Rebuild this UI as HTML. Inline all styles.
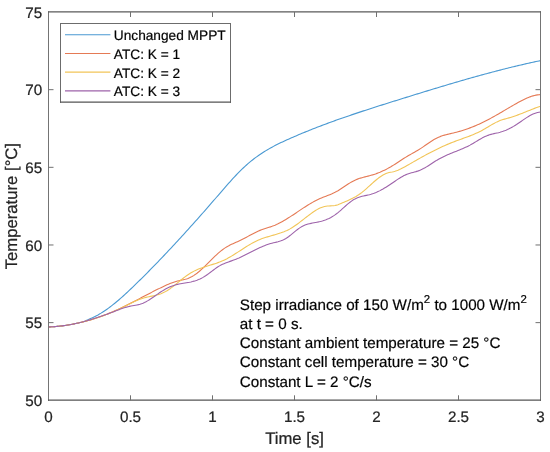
<!DOCTYPE html>
<html><head><meta charset="utf-8"><title>Temperature plot</title>
<style>html,body{margin:0;padding:0;background:#fff;width:550px;height:452px;overflow:hidden}svg{display:block}text{stroke:#1a1a1a;stroke-width:0.22px}</style>
</head><body>
<svg width="550" height="452" viewBox="0 0 550 452" text-rendering="geometricPrecision">
<rect width="550" height="452" fill="#fff"/>
<defs><clipPath id="c"><rect x="48.5" y="12.0" width="492.0" height="388.3"/></clipPath></defs>
<g clip-path="url(#c)" fill="none" stroke-width="1.1" stroke-linejoin="round" stroke-linecap="round">
<path d="M48.50 326.91 L50.00 326.85 L51.50 326.78 L53.00 326.69 L54.50 326.59 L56.00 326.47 L57.50 326.34 L59.00 326.19 L60.50 326.02 L62.00 325.84 L63.50 325.65 L65.00 325.44 L66.50 325.22 L68.00 324.98 L69.50 324.73 L71.00 324.46 L72.50 324.18 L74.00 323.89 L75.50 323.58 L77.00 323.26 L78.50 322.92 L80.00 322.57 L81.50 322.16 L83.00 321.69 L84.50 321.17 L86.00 320.57 L87.50 319.89 L89.00 319.24 L90.50 318.60 L92.00 317.93 L93.50 317.23 L95.00 316.49 L96.50 315.71 L98.00 314.90 L99.50 314.04 L101.00 313.15 L102.50 312.21 L104.00 311.24 L105.50 310.23 L107.00 309.19 L108.50 308.11 L110.00 307.00 L111.50 305.85 L113.00 304.68 L114.50 303.48 L116.00 302.25 L117.50 300.99 L119.00 299.71 L120.50 298.41 L122.00 297.08 L123.50 295.74 L125.00 294.38 L126.50 292.99 L128.00 291.60 L129.50 290.18 L131.00 288.76 L132.50 287.32 L134.00 285.87 L135.50 284.42 L137.00 282.95 L138.50 281.48 L140.00 280.00 L141.50 278.52 L143.00 277.03 L144.50 275.53 L146.00 274.03 L147.50 272.52 L149.00 271.00 L150.50 269.48 L152.00 267.95 L153.50 266.41 L155.00 264.87 L156.50 263.32 L158.00 261.77 L159.50 260.21 L161.00 258.65 L162.50 257.08 L164.00 255.50 L165.50 253.92 L167.00 252.33 L168.50 250.74 L170.00 249.14 L171.50 247.54 L173.00 245.93 L174.50 244.32 L176.00 242.70 L177.50 241.07 L179.00 239.45 L180.50 237.81 L182.00 236.17 L183.50 234.53 L185.00 232.88 L186.50 231.23 L188.00 229.57 L189.50 227.91 L191.00 226.24 L192.50 224.57 L194.00 222.89 L195.50 221.21 L197.00 219.53 L198.50 217.84 L200.00 216.14 L201.50 214.45 L203.00 212.74 L204.50 211.04 L206.00 209.33 L207.50 207.62 L209.00 205.90 L210.50 204.18 L212.00 202.45 L213.50 200.73 L215.00 198.99 L216.50 197.26 L218.00 195.52 L219.50 193.78 L221.00 192.04 L222.50 190.31 L224.00 188.58 L225.50 186.86 L227.00 185.15 L228.50 183.45 L230.00 181.77 L231.50 180.11 L233.00 178.47 L234.50 176.85 L236.00 175.25 L237.50 173.68 L239.00 172.14 L240.50 170.64 L242.00 169.17 L243.50 167.73 L245.00 166.34 L246.50 164.98 L248.00 163.67 L249.50 162.40 L251.00 161.16 L252.50 159.96 L254.00 158.80 L255.50 157.67 L257.00 156.57 L258.50 155.51 L260.00 154.48 L261.50 153.48 L263.00 152.50 L264.50 151.55 L266.00 150.63 L267.50 149.74 L269.00 148.87 L270.50 148.02 L272.00 147.19 L273.50 146.38 L275.00 145.59 L276.50 144.82 L278.00 144.07 L279.50 143.33 L281.00 142.60 L282.50 141.89 L284.00 141.19 L285.50 140.50 L287.00 139.82 L288.50 139.15 L290.00 138.49 L291.50 137.83 L293.00 137.17 L294.50 136.53 L296.00 135.88 L297.50 135.24 L299.00 134.61 L300.50 133.98 L302.00 133.35 L303.50 132.73 L305.00 132.12 L306.50 131.50 L308.00 130.90 L309.50 130.29 L311.00 129.70 L312.50 129.10 L314.00 128.51 L315.50 127.93 L317.00 127.34 L318.50 126.76 L320.00 126.19 L321.50 125.62 L323.00 125.05 L324.50 124.49 L326.00 123.93 L327.50 123.37 L329.00 122.82 L330.50 122.27 L332.00 121.72 L333.50 121.18 L335.00 120.64 L336.50 120.10 L338.00 119.57 L339.50 119.04 L341.00 118.51 L342.50 117.99 L344.00 117.46 L345.50 116.94 L347.00 116.43 L348.50 115.91 L350.00 115.40 L351.50 114.89 L353.00 114.38 L354.50 113.88 L356.00 113.38 L357.50 112.88 L359.00 112.38 L360.50 111.88 L362.00 111.39 L363.50 110.89 L365.00 110.40 L366.50 109.92 L368.00 109.43 L369.50 108.94 L371.00 108.46 L372.50 107.98 L374.00 107.49 L375.50 107.01 L377.00 106.54 L378.50 106.06 L380.00 105.58 L381.50 105.11 L383.00 104.63 L384.50 104.16 L386.00 103.69 L387.50 103.22 L389.00 102.74 L390.50 102.27 L392.00 101.81 L393.50 101.34 L395.00 100.87 L396.50 100.40 L398.00 99.93 L399.50 99.46 L401.00 99.00 L402.50 98.53 L404.00 98.06 L405.50 97.60 L407.00 97.13 L408.50 96.66 L410.00 96.20 L411.50 95.73 L413.00 95.27 L414.50 94.80 L416.00 94.34 L417.50 93.88 L419.00 93.41 L420.50 92.95 L422.00 92.49 L423.50 92.03 L425.00 91.57 L426.50 91.11 L428.00 90.65 L429.50 90.19 L431.00 89.74 L432.50 89.28 L434.00 88.82 L435.50 88.37 L437.00 87.92 L438.50 87.46 L440.00 87.01 L441.50 86.56 L443.00 86.11 L444.50 85.66 L446.00 85.21 L447.50 84.77 L449.00 84.32 L450.50 83.88 L452.00 83.43 L453.50 82.99 L455.00 82.55 L456.50 82.11 L458.00 81.68 L459.50 81.24 L461.00 80.81 L462.50 80.37 L464.00 79.94 L465.50 79.51 L467.00 79.08 L468.50 78.65 L470.00 78.23 L471.50 77.80 L473.00 77.38 L474.50 76.96 L476.00 76.54 L477.50 76.12 L479.00 75.71 L480.50 75.30 L482.00 74.88 L483.50 74.47 L485.00 74.07 L486.50 73.66 L488.00 73.26 L489.50 72.86 L491.00 72.46 L492.50 72.06 L494.00 71.66 L495.50 71.27 L497.00 70.88 L498.50 70.49 L500.00 70.10 L501.50 69.72 L503.00 69.33 L504.50 68.95 L506.00 68.58 L507.50 68.20 L509.00 67.83 L510.50 67.46 L512.00 67.09 L513.50 66.73 L515.00 66.36 L516.50 66.00 L518.00 65.64 L519.50 65.29 L521.00 64.94 L522.50 64.59 L524.00 64.24 L525.50 63.90 L527.00 63.56 L528.50 63.22 L530.00 62.88 L531.50 62.55 L533.00 62.22 L534.50 61.89 L536.00 61.57 L537.50 61.25 L539.00 60.93 L540.50 60.61" stroke="#4A99D2"/>
<path d="M48.50 326.91 L50.00 326.85 L51.50 326.78 L53.00 326.69 L54.50 326.59 L56.00 326.47 L57.50 326.34 L59.00 326.19 L60.50 326.02 L62.00 325.84 L63.50 325.65 L65.00 325.44 L66.50 325.22 L68.00 324.98 L69.50 324.73 L71.00 324.46 L72.50 324.18 L74.00 323.89 L75.50 323.58 L77.00 323.26 L78.50 322.92 L80.00 322.57 L81.50 322.22 L83.00 321.85 L84.50 321.48 L86.00 321.10 L87.50 320.70 L89.00 320.29 L90.50 319.85 L92.00 319.40 L93.50 318.94 L95.00 318.46 L96.50 317.97 L98.00 317.47 L99.50 316.95 L101.00 316.42 L102.50 315.87 L104.00 315.32 L105.50 314.74 L107.00 314.16 L108.50 313.55 L110.00 312.94 L111.50 312.31 L113.00 311.67 L114.50 311.02 L116.00 310.35 L117.50 309.67 L119.00 308.97 L120.50 308.26 L122.00 307.55 L123.50 306.82 L125.00 306.08 L126.50 305.34 L128.00 304.59 L129.50 303.83 L131.00 303.06 L132.50 302.29 L134.00 301.51 L135.50 300.73 L137.00 299.95 L138.50 299.16 L140.00 298.38 L141.50 297.59 L143.00 296.80 L144.50 296.02 L146.00 295.23 L147.50 294.45 L149.00 293.67 L150.50 292.90 L152.00 292.13 L153.50 291.36 L155.00 290.60 L156.50 289.85 L158.00 289.11 L159.50 288.37 L161.00 287.65 L162.50 286.93 L164.00 286.23 L165.50 285.54 L167.00 284.87 L168.50 284.22 L170.00 283.59 L171.50 283.00 L173.00 282.45 L174.50 281.94 L176.00 281.47 L177.50 281.06 L179.00 280.70 L180.50 280.36 L182.00 280.04 L183.50 279.70 L185.00 279.33 L186.50 278.91 L188.00 278.41 L189.50 277.82 L191.00 277.11 L192.50 276.28 L194.00 275.35 L195.50 274.32 L197.00 273.20 L198.50 272.00 L200.00 270.73 L201.50 269.40 L203.00 268.01 L204.50 266.58 L206.00 265.12 L207.50 263.64 L209.00 262.14 L210.50 260.63 L212.00 259.14 L213.50 257.65 L215.00 256.20 L216.50 254.78 L218.00 253.41 L219.50 252.10 L221.00 250.86 L222.50 249.70 L224.00 248.62 L225.50 247.64 L227.00 246.73 L228.50 245.89 L230.00 245.10 L231.50 244.36 L233.00 243.66 L234.50 242.97 L236.00 242.30 L237.50 241.64 L239.00 240.96 L240.50 240.27 L242.00 239.54 L243.50 238.78 L245.00 238.00 L246.50 237.19 L248.00 236.37 L249.50 235.55 L251.00 234.73 L252.50 233.93 L254.00 233.15 L255.50 232.39 L257.00 231.67 L258.50 231.00 L260.00 230.38 L261.50 229.80 L263.00 229.26 L264.50 228.75 L266.00 228.27 L267.50 227.80 L269.00 227.34 L270.50 226.87 L272.00 226.35 L273.50 225.79 L275.00 225.18 L276.50 224.52 L278.00 223.81 L279.50 223.05 L281.00 222.26 L282.50 221.44 L284.00 220.58 L285.50 219.69 L287.00 218.77 L288.50 217.83 L290.00 216.88 L291.50 215.90 L293.00 214.92 L294.50 213.92 L296.00 212.92 L297.50 211.91 L299.00 210.90 L300.50 209.90 L302.00 208.90 L303.50 207.91 L305.00 206.94 L306.50 205.98 L308.00 205.04 L309.50 204.12 L311.00 203.22 L312.50 202.36 L314.00 201.52 L315.50 200.72 L317.00 199.96 L318.50 199.24 L320.00 198.57 L321.50 197.94 L323.00 197.33 L324.50 196.75 L326.00 196.18 L327.50 195.60 L329.00 195.02 L330.50 194.41 L332.00 193.77 L333.50 193.09 L335.00 192.35 L336.50 191.56 L338.00 190.69 L339.50 189.77 L341.00 188.81 L342.50 187.81 L344.00 186.81 L345.50 185.80 L347.00 184.79 L348.50 183.82 L350.00 182.87 L351.50 181.98 L353.00 181.15 L354.50 180.39 L356.00 179.72 L357.50 179.12 L359.00 178.58 L360.50 178.10 L362.00 177.66 L363.50 177.25 L365.00 176.86 L366.50 176.49 L368.00 176.11 L369.50 175.73 L371.00 175.32 L372.50 174.89 L374.00 174.42 L375.50 173.92 L377.00 173.38 L378.50 172.81 L380.00 172.20 L381.50 171.55 L383.00 170.87 L384.50 170.16 L386.00 169.41 L387.50 168.62 L389.00 167.80 L390.50 166.95 L392.00 166.05 L393.50 165.13 L395.00 164.18 L396.50 163.20 L398.00 162.22 L399.50 161.23 L401.00 160.24 L402.50 159.26 L404.00 158.30 L405.50 157.36 L407.00 156.45 L408.50 155.57 L410.00 154.71 L411.50 153.87 L413.00 153.03 L414.50 152.19 L416.00 151.34 L417.50 150.46 L419.00 149.56 L420.50 148.61 L422.00 147.62 L423.50 146.60 L425.00 145.56 L426.50 144.52 L428.00 143.48 L429.50 142.45 L431.00 141.45 L432.50 140.49 L434.00 139.58 L435.50 138.73 L437.00 137.95 L438.50 137.26 L440.00 136.64 L441.50 136.08 L443.00 135.59 L444.50 135.15 L446.00 134.74 L447.50 134.36 L449.00 134.01 L450.50 133.66 L452.00 133.31 L453.50 132.96 L455.00 132.58 L456.50 132.19 L458.00 131.79 L459.50 131.36 L461.00 130.92 L462.50 130.46 L464.00 129.99 L465.50 129.49 L467.00 128.98 L468.50 128.44 L470.00 127.89 L471.50 127.32 L473.00 126.73 L474.50 126.12 L476.00 125.50 L477.50 124.85 L479.00 124.18 L480.50 123.49 L482.00 122.78 L483.50 122.05 L485.00 121.30 L486.50 120.53 L488.00 119.75 L489.50 118.95 L491.00 118.14 L492.50 117.31 L494.00 116.47 L495.50 115.62 L497.00 114.77 L498.50 113.90 L500.00 113.03 L501.50 112.16 L503.00 111.28 L504.50 110.40 L506.00 109.52 L507.50 108.63 L509.00 107.76 L510.50 106.88 L512.00 106.01 L513.50 105.14 L515.00 104.29 L516.50 103.44 L518.00 102.60 L519.50 101.78 L521.00 100.98 L522.50 100.20 L524.00 99.45 L525.50 98.74 L527.00 98.07 L528.50 97.44 L530.00 96.86 L531.50 96.34 L533.00 95.88 L534.50 95.47 L536.00 95.14 L537.50 94.88 L539.00 94.70 L540.50 94.60" stroke="#E57A55"/>
<path d="M48.50 326.91 L50.00 326.85 L51.50 326.78 L53.00 326.69 L54.50 326.59 L56.00 326.47 L57.50 326.34 L59.00 326.19 L60.50 326.02 L62.00 325.84 L63.50 325.65 L65.00 325.44 L66.50 325.22 L68.00 324.98 L69.50 324.73 L71.00 324.46 L72.50 324.18 L74.00 323.89 L75.50 323.58 L77.00 323.26 L78.50 322.92 L80.00 322.57 L81.50 322.22 L83.00 321.85 L84.50 321.48 L86.00 321.10 L87.50 320.71 L89.00 320.30 L90.50 319.87 L92.00 319.42 L93.50 318.96 L95.00 318.49 L96.50 318.00 L98.00 317.50 L99.50 316.99 L101.00 316.47 L102.50 315.93 L104.00 315.37 L105.50 314.80 L107.00 314.22 L108.50 313.63 L110.00 313.02 L111.50 312.40 L113.00 311.77 L114.50 311.12 L116.00 310.46 L117.50 309.79 L119.00 309.11 L120.50 308.41 L122.00 307.70 L123.50 306.99 L125.00 306.26 L126.50 305.53 L128.00 304.79 L129.50 304.04 L131.00 303.29 L132.50 302.55 L134.00 301.82 L135.50 301.11 L137.00 300.43 L138.50 299.79 L140.00 299.19 L141.50 298.65 L143.00 298.17 L144.50 297.74 L146.00 297.37 L147.50 297.02 L149.00 296.71 L150.50 296.40 L152.00 296.10 L153.50 295.79 L155.00 295.45 L156.50 295.09 L158.00 294.67 L159.50 294.21 L161.00 293.68 L162.50 293.07 L164.00 292.37 L165.50 291.57 L167.00 290.69 L168.50 289.73 L170.00 288.70 L171.50 287.62 L173.00 286.49 L174.50 285.32 L176.00 284.12 L177.50 282.90 L179.00 281.68 L180.50 280.45 L182.00 279.24 L183.50 278.05 L185.00 276.90 L186.50 275.78 L188.00 274.72 L189.50 273.71 L191.00 272.78 L192.50 271.92 L194.00 271.12 L195.50 270.39 L197.00 269.71 L198.50 269.07 L200.00 268.48 L201.50 267.93 L203.00 267.41 L204.50 266.91 L206.00 266.43 L207.50 265.97 L209.00 265.51 L210.50 265.06 L212.00 264.60 L213.50 264.14 L215.00 263.66 L216.50 263.16 L218.00 262.64 L219.50 262.09 L221.00 261.49 L222.50 260.86 L224.00 260.17 L225.50 259.44 L227.00 258.67 L228.50 257.85 L230.00 257.00 L231.50 256.12 L233.00 255.21 L234.50 254.28 L236.00 253.33 L237.50 252.37 L239.00 251.40 L240.50 250.42 L242.00 249.45 L243.50 248.48 L245.00 247.52 L246.50 246.57 L248.00 245.64 L249.50 244.74 L251.00 243.86 L252.50 243.01 L254.00 242.20 L255.50 241.43 L257.00 240.71 L258.50 240.03 L260.00 239.40 L261.50 238.82 L263.00 238.28 L264.50 237.78 L266.00 237.30 L267.50 236.85 L269.00 236.41 L270.50 235.99 L272.00 235.57 L273.50 235.15 L275.00 234.72 L276.50 234.29 L278.00 233.83 L279.50 233.35 L281.00 232.85 L282.50 232.30 L284.00 231.72 L285.50 231.09 L287.00 230.41 L288.50 229.67 L290.00 228.87 L291.50 228.00 L293.00 227.07 L294.50 226.07 L296.00 225.03 L297.50 223.95 L299.00 222.83 L300.50 221.68 L302.00 220.52 L303.50 219.34 L305.00 218.17 L306.50 216.99 L308.00 215.83 L309.50 214.69 L311.00 213.58 L312.50 212.51 L314.00 211.49 L315.50 210.53 L317.00 209.64 L318.50 208.82 L320.00 208.09 L321.50 207.46 L323.00 206.93 L324.50 206.52 L326.00 206.23 L327.50 206.06 L329.00 205.95 L330.50 205.88 L332.00 205.81 L333.50 205.69 L335.00 205.49 L336.50 205.15 L338.00 204.68 L339.50 204.11 L341.00 203.48 L342.50 202.83 L344.00 202.18 L345.50 201.54 L347.00 200.89 L348.50 200.23 L350.00 199.55 L351.50 198.84 L353.00 198.09 L354.50 197.29 L356.00 196.44 L357.50 195.53 L359.00 194.55 L360.50 193.49 L362.00 192.35 L363.50 191.14 L365.00 189.87 L366.50 188.55 L368.00 187.21 L369.50 185.84 L371.00 184.48 L372.50 183.12 L374.00 181.78 L375.50 180.49 L377.00 179.24 L378.50 178.06 L380.00 176.96 L381.50 175.94 L383.00 175.02 L384.50 174.21 L386.00 173.52 L387.50 172.96 L389.00 172.54 L390.50 172.25 L392.00 172.00 L393.50 171.70 L395.00 171.29 L396.50 170.79 L398.00 170.21 L399.50 169.55 L401.00 168.83 L402.50 168.06 L404.00 167.25 L405.50 166.42 L407.00 165.57 L408.50 164.71 L410.00 163.86 L411.50 163.00 L413.00 162.13 L414.50 161.27 L416.00 160.42 L417.50 159.56 L419.00 158.71 L420.50 157.87 L422.00 157.03 L423.50 156.21 L425.00 155.39 L426.50 154.58 L428.00 153.78 L429.50 152.99 L431.00 152.21 L432.50 151.43 L434.00 150.67 L435.50 149.93 L437.00 149.19 L438.50 148.46 L440.00 147.75 L441.50 147.05 L443.00 146.36 L444.50 145.69 L446.00 145.02 L447.50 144.38 L449.00 143.75 L450.50 143.13 L452.00 142.53 L453.50 141.94 L455.00 141.37 L456.50 140.81 L458.00 140.26 L459.50 139.72 L461.00 139.18 L462.50 138.64 L464.00 138.10 L465.50 137.56 L467.00 137.01 L468.50 136.44 L470.00 135.87 L471.50 135.27 L473.00 134.66 L474.50 134.02 L476.00 133.36 L477.50 132.67 L479.00 131.94 L480.50 131.19 L482.00 130.39 L483.50 129.56 L485.00 128.69 L486.50 127.81 L488.00 126.91 L489.50 126.01 L491.00 125.12 L492.50 124.26 L494.00 123.42 L495.50 122.62 L497.00 121.88 L498.50 121.20 L500.00 120.58 L501.50 120.04 L503.00 119.55 L504.50 119.10 L506.00 118.68 L507.50 118.27 L509.00 117.86 L510.50 117.43 L512.00 116.97 L513.50 116.48 L515.00 115.97 L516.50 115.44 L518.00 114.89 L519.50 114.33 L521.00 113.75 L522.50 113.16 L524.00 112.56 L525.50 111.96 L527.00 111.35 L528.50 110.75 L530.00 110.14 L531.50 109.54 L533.00 108.95 L534.50 108.37 L536.00 107.80 L537.50 107.25 L539.00 106.72 L540.50 106.20" stroke="#F2C558"/>
<path d="M48.50 326.91 L50.00 326.85 L51.50 326.78 L53.00 326.69 L54.50 326.59 L56.00 326.47 L57.50 326.34 L59.00 326.19 L60.50 326.02 L62.00 325.84 L63.50 325.65 L65.00 325.44 L66.50 325.22 L68.00 324.98 L69.50 324.73 L71.00 324.46 L72.50 324.18 L74.00 323.89 L75.50 323.58 L77.00 323.26 L78.50 322.92 L80.00 322.57 L81.50 322.21 L83.00 321.83 L84.50 321.43 L86.00 321.01 L87.50 320.58 L89.00 320.15 L90.50 319.70 L92.00 319.24 L93.50 318.78 L95.00 318.30 L96.50 317.81 L98.00 317.32 L99.50 316.81 L101.00 316.30 L102.50 315.78 L104.00 315.25 L105.50 314.71 L107.00 314.17 L108.50 313.62 L110.00 313.07 L111.50 312.50 L113.00 311.94 L114.50 311.37 L116.00 310.79 L117.50 310.21 L119.00 309.64 L120.50 309.08 L122.00 308.54 L123.50 308.03 L125.00 307.54 L126.50 307.10 L128.00 306.70 L129.50 306.35 L131.00 306.05 L132.50 305.78 L134.00 305.52 L135.50 305.25 L137.00 304.95 L138.50 304.62 L140.00 304.22 L141.50 303.74 L143.00 303.16 L144.50 302.48 L146.00 301.72 L147.50 300.88 L149.00 299.98 L150.50 299.02 L152.00 298.02 L153.50 297.00 L155.00 295.95 L156.50 294.90 L158.00 293.85 L159.50 292.82 L161.00 291.81 L162.50 290.85 L164.00 289.93 L165.50 289.08 L167.00 288.28 L168.50 287.54 L170.00 286.87 L171.50 286.25 L173.00 285.69 L174.50 285.19 L176.00 284.75 L177.50 284.37 L179.00 284.04 L180.50 283.75 L182.00 283.50 L183.50 283.26 L185.00 283.03 L186.50 282.80 L188.00 282.54 L189.50 282.26 L191.00 281.94 L192.50 281.57 L194.00 281.15 L195.50 280.68 L197.00 280.15 L198.50 279.55 L200.00 278.89 L201.50 278.17 L203.00 277.37 L204.50 276.50 L206.00 275.55 L207.50 274.51 L209.00 273.41 L210.50 272.27 L212.00 271.11 L213.50 269.95 L215.00 268.83 L216.50 267.76 L218.00 266.77 L219.50 265.87 L221.00 265.07 L222.50 264.33 L224.00 263.67 L225.50 263.05 L227.00 262.47 L228.50 261.92 L230.00 261.39 L231.50 260.87 L233.00 260.34 L234.50 259.79 L236.00 259.21 L237.50 258.60 L239.00 257.95 L240.50 257.26 L242.00 256.55 L243.50 255.82 L245.00 255.07 L246.50 254.30 L248.00 253.53 L249.50 252.75 L251.00 251.98 L252.50 251.21 L254.00 250.45 L255.50 249.70 L257.00 248.98 L258.50 248.27 L260.00 247.58 L261.50 246.91 L263.00 246.28 L264.50 245.67 L266.00 245.10 L267.50 244.56 L269.00 244.06 L270.50 243.59 L272.00 243.18 L273.50 242.80 L275.00 242.45 L276.50 242.10 L278.00 241.73 L279.50 241.31 L281.00 240.83 L282.50 240.25 L284.00 239.55 L285.50 238.72 L287.00 237.76 L288.50 236.70 L290.00 235.56 L291.50 234.36 L293.00 233.14 L294.50 231.90 L296.00 230.69 L297.50 229.51 L299.00 228.40 L300.50 227.39 L302.00 226.50 L303.50 225.74 L305.00 225.09 L306.50 224.54 L308.00 224.08 L309.50 223.68 L311.00 223.34 L312.50 223.03 L314.00 222.75 L315.50 222.48 L317.00 222.20 L318.50 221.90 L320.00 221.56 L321.50 221.18 L323.00 220.75 L324.50 220.26 L326.00 219.71 L327.50 219.10 L329.00 218.41 L330.50 217.66 L332.00 216.82 L333.50 215.90 L335.00 214.90 L336.50 213.80 L338.00 212.61 L339.50 211.36 L341.00 210.05 L342.50 208.71 L344.00 207.35 L345.50 206.01 L347.00 204.69 L348.50 203.41 L350.00 202.20 L351.50 201.08 L353.00 200.05 L354.50 199.15 L356.00 198.39 L357.50 197.74 L359.00 197.19 L360.50 196.73 L362.00 196.33 L363.50 195.98 L365.00 195.65 L366.50 195.34 L368.00 195.02 L369.50 194.67 L371.00 194.28 L372.50 193.82 L374.00 193.30 L375.50 192.71 L377.00 192.07 L378.50 191.37 L380.00 190.62 L381.50 189.82 L383.00 188.98 L384.50 188.09 L386.00 187.18 L387.50 186.23 L389.00 185.25 L390.50 184.26 L392.00 183.24 L393.50 182.21 L395.00 181.18 L396.50 180.16 L398.00 179.16 L399.50 178.19 L401.00 177.27 L402.50 176.40 L404.00 175.60 L405.50 174.88 L407.00 174.24 L408.50 173.70 L410.00 173.23 L411.50 172.81 L413.00 172.41 L414.50 172.02 L416.00 171.61 L417.50 171.15 L419.00 170.64 L420.50 170.04 L422.00 169.35 L423.50 168.58 L425.00 167.74 L426.50 166.85 L428.00 165.92 L429.50 164.96 L431.00 163.98 L432.50 162.99 L434.00 162.02 L435.50 161.07 L437.00 160.15 L438.50 159.28 L440.00 158.45 L441.50 157.66 L443.00 156.90 L444.50 156.18 L446.00 155.49 L447.50 154.82 L449.00 154.18 L450.50 153.55 L452.00 152.93 L453.50 152.33 L455.00 151.73 L456.50 151.14 L458.00 150.54 L459.50 149.94 L461.00 149.32 L462.50 148.69 L464.00 148.03 L465.50 147.35 L467.00 146.64 L468.50 145.90 L470.00 145.12 L471.50 144.29 L473.00 143.42 L474.50 142.53 L476.00 141.62 L477.50 140.71 L479.00 139.81 L480.50 138.94 L482.00 138.11 L483.50 137.33 L485.00 136.61 L486.50 135.95 L488.00 135.36 L489.50 134.83 L491.00 134.37 L492.50 133.98 L494.00 133.64 L495.50 133.33 L497.00 133.02 L498.50 132.68 L500.00 132.29 L501.50 131.84 L503.00 131.33 L504.50 130.78 L506.00 130.17 L507.50 129.52 L509.00 128.81 L510.50 128.05 L512.00 127.24 L513.50 126.39 L515.00 125.48 L516.50 124.53 L518.00 123.53 L519.50 122.51 L521.00 121.46 L522.50 120.41 L524.00 119.37 L525.50 118.36 L527.00 117.38 L528.50 116.44 L530.00 115.58 L531.50 114.78 L533.00 114.08 L534.50 113.46 L536.00 112.94 L537.50 112.53 L539.00 112.21 L540.50 112.00" stroke="#9E63AA"/>
</g>
<g stroke="#707070" stroke-width="1" fill="none">
<line x1="48.50" y1="11.40" x2="48.50" y2="400.90" stroke="#747474"/>
<line x1="540.50" y1="11.40" x2="540.50" y2="400.90" stroke="#747474"/>
<line x1="48.00" y1="11.85" x2="541.00" y2="11.85" stroke="#5a5a5a" stroke-width="1.1"/>
<line x1="48.00" y1="400.15" x2="541.00" y2="400.15" stroke="#555" stroke-width="1.1"/>
<line x1="130.50" y1="400.30" x2="130.50" y2="395.30"/>
<line x1="130.50" y1="12.00" x2="130.50" y2="17.00"/>
<line x1="212.50" y1="400.30" x2="212.50" y2="395.30"/>
<line x1="212.50" y1="12.00" x2="212.50" y2="17.00"/>
<line x1="294.50" y1="400.30" x2="294.50" y2="395.30"/>
<line x1="294.50" y1="12.00" x2="294.50" y2="17.00"/>
<line x1="376.50" y1="400.30" x2="376.50" y2="395.30"/>
<line x1="376.50" y1="12.00" x2="376.50" y2="17.00"/>
<line x1="458.50" y1="400.30" x2="458.50" y2="395.30"/>
<line x1="458.50" y1="12.00" x2="458.50" y2="17.00"/>
<line x1="48.50" y1="322.64" x2="53.50" y2="322.64"/>
<line x1="540.50" y1="322.64" x2="535.50" y2="322.64"/>
<line x1="48.50" y1="244.98" x2="53.50" y2="244.98"/>
<line x1="540.50" y1="244.98" x2="535.50" y2="244.98"/>
<line x1="48.50" y1="167.32" x2="53.50" y2="167.32"/>
<line x1="540.50" y1="167.32" x2="535.50" y2="167.32"/>
<line x1="48.50" y1="89.66" x2="53.50" y2="89.66"/>
<line x1="540.50" y1="89.66" x2="535.50" y2="89.66"/>
</g>
<g font-family="'Liberation Sans', Arial, Helvetica, sans-serif" font-size="15.20" fill="#262626">
<text x="48.50" y="421.90" text-anchor="middle">0</text>
<text x="130.50" y="421.90" text-anchor="middle">0.5</text>
<text x="212.50" y="421.90" text-anchor="middle">1</text>
<text x="294.50" y="421.90" text-anchor="middle">1.5</text>
<text x="376.50" y="421.90" text-anchor="middle">2</text>
<text x="458.50" y="421.90" text-anchor="middle">2.5</text>
<text x="540.50" y="421.90" text-anchor="middle">3</text>
<text x="42.20" y="405.90" text-anchor="end">50</text>
<text x="42.20" y="328.24" text-anchor="end">55</text>
<text x="42.20" y="250.58" text-anchor="end">60</text>
<text x="42.20" y="172.92" text-anchor="end">65</text>
<text x="42.20" y="95.26" text-anchor="end">70</text>
<text x="42.20" y="17.60" text-anchor="end">75</text>
</g>
<text x="294.50" y="444.00" text-anchor="middle" font-family="'Liberation Sans', Arial, Helvetica, sans-serif" font-size="16.70" fill="#262626">Time [s]</text>
<text transform="translate(16.80 206.15) rotate(-90)" text-anchor="middle" font-family="'Liberation Sans', Arial, Helvetica, sans-serif" font-size="16.70" fill="#262626">Temperature [°C]</text>
<rect x="60.50" y="23.50" width="170.00" height="78.70" fill="#fff"/>
<g fill="none" stroke="#6c6c6c">
<line x1="60.50" y1="23.00" x2="60.50" y2="102.80"/>
<line x1="230.50" y1="23.00" x2="230.50" y2="102.80"/>
<line x1="60.00" y1="23.50" x2="231.00" y2="23.50"/>
<line x1="60.00" y1="102.20" x2="231.00" y2="102.20" stroke="#555" stroke-width="1.2"/>
</g>
<line x1="65" y1="34.70" x2="110.4" y2="34.70" stroke="#4A99D2" stroke-width="1.1"/>
<text x="113.80" y="40.30" font-family="'Liberation Sans', Arial, Helvetica, sans-serif" font-size="13.70" fill="#000">Unchanged MPPT</text>
<line x1="65" y1="53.43" x2="110.4" y2="53.43" stroke="#E57A55" stroke-width="1.1"/>
<text x="113.80" y="59.03" font-family="'Liberation Sans', Arial, Helvetica, sans-serif" font-size="13.70" fill="#000">ATC: K = 1</text>
<line x1="65" y1="72.16" x2="110.4" y2="72.16" stroke="#F2C558" stroke-width="1.1"/>
<text x="113.80" y="77.76" font-family="'Liberation Sans', Arial, Helvetica, sans-serif" font-size="13.70" fill="#000">ATC: K = 2</text>
<line x1="65" y1="90.89" x2="110.4" y2="90.89" stroke="#9E63AA" stroke-width="1.1"/>
<text x="113.80" y="96.49" font-family="'Liberation Sans', Arial, Helvetica, sans-serif" font-size="13.70" fill="#000">ATC: K = 3</text>
<g font-family="'Liberation Sans', Arial, Helvetica, sans-serif" font-size="15.20" fill="#000">
<text x="239.80" y="309.70">Step irradiance of 150 W/m<tspan dy="-7.1" font-size="11.4">2</tspan><tspan dy="7.1"> to 1000 W/m</tspan><tspan dy="-7.1" font-size="11.4">2</tspan></text>
<text x="239.80" y="328.95">at t = 0 s.</text>
<text x="239.80" y="348.20">Constant ambient temperature = 25 °C</text>
<text x="239.80" y="367.45">Constant cell temperature = 30 °C</text>
<text x="239.80" y="386.70">Constant L = 2 °C/s</text>
</g>
</svg>
</body></html>
